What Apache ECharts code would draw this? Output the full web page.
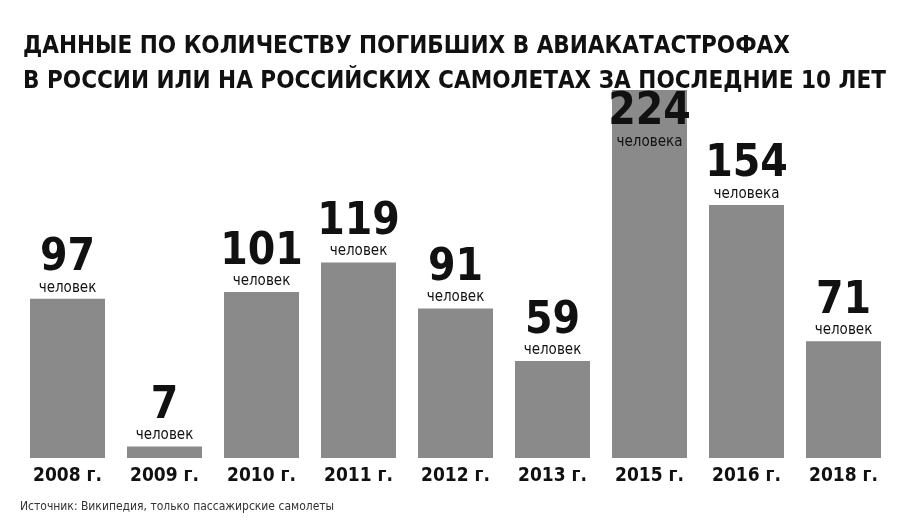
<!DOCTYPE html>
<html>
<head>
<meta charset="utf-8">
<script src="https://cdn.jsdelivr.net/npm/echarts@6/dist/echarts.min.js"></script>
<style>html,body{margin:0;background:#fff}#main{width:907px;height:524px}</style>
</head>
<body>
<div id="main"></div>
<script>
const years = ['2008 г.', '2009 г.', '2010 г.', '2011 г.', '2012 г.', '2013 г.', '2015 г.', '2016 г.', '2018 г.'];
const deaths = [97, 7, 101, 119, 91, 59, 224, 154, 71];
const units = ['человек', 'человек', 'человек', 'человек', 'человек', 'человек', 'человека', 'человека', 'человек'];
const font = "'Liberation Sans Narrow', 'DejaVu Sans Condensed', 'Roboto', sans-serif";

const chart = echarts.init(document.getElementById('main'));
chart.setOption({
  animation: false,
  textStyle: { fontFamily: font },
  title: {
    text: 'ДАННЫЕ ПО КОЛИЧЕСТВУ ПОГИБШИХ В АВИАКАТАСТРОФАХ\nВ РОССИИ ИЛИ НА РОССИЙСКИХ САМОЛЕТАХ ЗА ПОСЛЕДНИЕ 10 ЛЕТ',
    left: 18, top: 24,
    textStyle: { fontFamily: font, fontSize: 24, fontWeight: 'bold', color: '#111', lineHeight: 35 }
  },
  graphic: [{
    type: 'text', left: 20, top: 501,
    style: { text: 'Источник: Википедия, только пассажирские самолеты', font: '12px ' + font, fill: '#333' }
  }],
  grid: { left: 19, right: 15, top: 90, bottom: 66 },
  xAxis: {
    type: 'category', data: years,
    axisLine: { show: false }, axisTick: { show: false },
    axisLabel: { fontFamily: font, fontSize: 19, fontWeight: 'bold', color: '#111', margin: 9 }
  },
  yAxis: { type: 'value', min: 0, max: 224, show: false, splitLine: { show: false } },
  series: [{
    type: 'bar', barWidth: 75,
    itemStyle: { color: '#8a8a8a' },
    data: deaths.map((v, i) => ({
      value: v,
      label: {
        show: true,
        position: v === 224 ? 'insideTop' : 'top',
        distance: v === 224 ? 2 : 3,
        formatter: '{n|' + v + '}\n{u|' + units[i] + '}',
        rich: {
          n: { fontFamily: font, fontSize: 44, fontWeight: 'bold', color: '#111', lineHeight: 42 },
          u: { fontFamily: font, fontSize: 15, color: '#111', lineHeight: 16 }
        }
      }
    }))
  }]
});
</script>
</body>
</html>
